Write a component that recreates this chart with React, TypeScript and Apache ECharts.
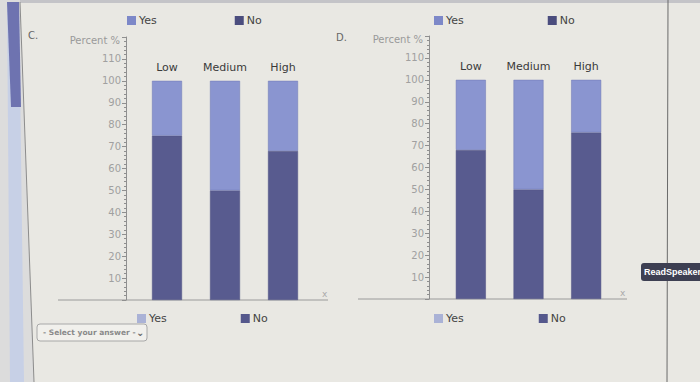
import React, { useEffect, useRef } from "react";
import * as echarts from "echarts";

const categories = ["Low", "Medium", "High"];
const noC = [75, 50, 68];
const yesC = [25, 50, 32];
const noD = [68, 50, 76];
const yesD = [32, 50, 24];
const yMin = 0;
const yMax = 120;
const yStep = 10;

const LIGHT = "#8a95d0";
const DARK = "#585b8f";
const FONT = "DejaVu Sans";

export default function App() {
  const ref = useRef<HTMLDivElement>(null);
  useEffect(() => {
    if (!ref.current) return;
    const chart = echarts.init(ref.current, undefined, { renderer: "svg" });

    const yAxis = (gridIndex: number, offset: number) => ({
      type: "value",
      gridIndex,
      min: yMin,
      max: yMax,
      interval: yStep,
      offset,
      name: "Percent %",
      nameLocation: "end",
      nameGap: 2,
      nameTextStyle: {
        align: "right",
        verticalAlign: "top",
        padding: [0, 6, 0, 0],
        color: "#9a9a9a",
        fontSize: 10,
        fontFamily: FONT,
      },
      axisLine: { show: true, lineStyle: { color: "#8f8f8f", width: 1 } },
      axisTick: { show: true, length: 4, lineStyle: { color: "#8f8f8f" } },
      minorTick: { show: true, splitNumber: 5, length: 2, lineStyle: { color: "#8f8f8f" } },
      splitLine: { show: false },
      axisLabel: {
        color: "#a0a0a0",
        fontSize: 10,
        fontFamily: FONT,
        margin: 5,
        formatter: (v: number) => (v === yMin || v === yMax ? "" : String(v)),
      },
    });

    const xAxis = (gridIndex: number) => ({
      type: "category",
      gridIndex,
      data: categories,
      axisLine: { show: false },
      axisTick: { show: false },
      axisLabel: { show: false },
    });

    const label = {
      show: true,
      position: "top",
      distance: 8,
      formatter: "{b}",
      color: "#3a3a3a",
      fontSize: 11,
      fontFamily: FONT,
    };

    const barBase = { type: "bar", barWidth: 30 };

    const legend = (left: number, top: number, gap: number, yesColor: string, noColor: string) => ({
      left,
      top,
      itemGap: gap,
      itemWidth: 9,
      itemHeight: 9,
      selectedMode: false,
      itemStyle: { borderWidth: 0 },
      textStyle: { fontSize: 11, color: "#444", fontFamily: FONT, padding: [0, 0, 0, -2] },
      data: [
        { name: "Yes", icon: "rect", itemStyle: { color: yesColor, borderWidth: 0 } },
        { name: "No", icon: "rect", itemStyle: { color: noColor, borderWidth: 0 } },
      ],
    });

    chart.setOption({
      animation: false,
      backgroundColor: "#e9e8e3",
      textStyle: { fontFamily: FONT },
      legend: [
        legend(122, 10, 78, "#7d88c8", "#4b4d7e"),
        legend(429, 10, 84, "#7d88c8", "#4b4d7e"),
        legend(132, 308, 74, "#aab2d6", "#55588c"),
        legend(429, 308, 75, "#aab2d6", "#55588c"),
      ],
      grid: [
        { left: 138, width: 174, top: 37, height: 263 },
        { left: 442, width: 173, top: 36, height: 263 },
      ],
      xAxis: [xAxis(0), xAxis(1)],
      yAxis: [yAxis(0, 12), yAxis(1, 13)],
      series: [
        { ...barBase, name: "No", stack: "c", xAxisIndex: 0, yAxisIndex: 0, data: noC,
          itemStyle: { color: DARK, borderColor: "#4e5180", borderWidth: 0.5 } },
        { ...barBase, name: "Yes", stack: "c", xAxisIndex: 0, yAxisIndex: 0, data: yesC,
          itemStyle: { color: LIGHT, borderColor: "#6f79b4", borderWidth: 0.5 }, label },
        { ...barBase, name: "No", stack: "d", xAxisIndex: 1, yAxisIndex: 1, data: noD,
          itemStyle: { color: DARK, borderColor: "#4e5180", borderWidth: 0.5 } },
        { ...barBase, name: "Yes", stack: "d", xAxisIndex: 1, yAxisIndex: 1, data: yesD,
          itemStyle: { color: LIGHT, borderColor: "#6f79b4", borderWidth: 0.5 }, label },
      ],
      graphic: [
        { type: "rect", z: -10, shape: { x: 0, y: 0, width: 700, height: 3 }, style: { fill: "#c4c4c8" } },
        { type: "polygon", z: 1, shape: { points: [[0, 0], [20, 0], [34, 382], [0, 382]] }, style: { fill: "#dcdcdc" } },
        { type: "polygon", z: 2, shape: { points: [[7, 2], [19, 2], [24, 382], [10, 382]] }, style: { fill: "#c7d0e6" } },
        { type: "polygon", z: 3, shape: { points: [[7, 2], [19, 2], [21, 107], [11, 107]] }, style: { fill: "#6e73b0" } },
        { type: "line", z: 3, shape: { x1: 20, y1: 2, x2: 34, y2: 382 }, style: { stroke: "#8c8c8c", lineWidth: 1 } },
        { type: "text", x: 28, y: 30, style: { text: "C.", fontSize: 10, fill: "#666", fontFamily: FONT } },
        { type: "text", x: 336, y: 32, style: { text: "D.", fontSize: 10, fill: "#666", fontFamily: FONT } },
        { type: "line", shape: { x1: 58, y1: 300, x2: 328, y2: 300 }, style: { stroke: "#9a9a9a", lineWidth: 1 } },
        { type: "text", x: 322, y: 289, style: { text: "x", fontSize: 9, fill: "#aaa", fontFamily: FONT } },
        { type: "line", shape: { x1: 358, y1: 299, x2: 627, y2: 299 }, style: { stroke: "#9a9a9a", lineWidth: 1 } },
        { type: "text", x: 620, y: 288, style: { text: "x", fontSize: 9, fill: "#aaa", fontFamily: FONT } },
        { type: "rect", shape: { x: 37, y: 324, width: 110, height: 17, r: 3 }, style: { fill: "#f1f0ec", stroke: "#a8a8a8", lineWidth: 1 } },
        { type: "text", x: 43, y: 328, style: { text: "- Select your answer -", fontSize: 7.5, fontWeight: "bold", fill: "#8a8a8a", fontFamily: FONT } },
        { type: "text", x: 136, y: 327, style: { text: "⌄", fontSize: 10, fontWeight: "bold", fill: "#666", fontFamily: FONT } },
        { type: "line", shape: { x1: 668, y1: 0, x2: 667, y2: 382 }, style: { stroke: "#6a6a6a", lineWidth: 1 } },
        { type: "rect", z: 5, shape: { x: 641, y: 263, width: 70, height: 18, r: 3 }, style: { fill: "#3d3f52" } },
        { type: "text", z: 6, x: 644, y: 267, style: { text: "ReadSpeaker", fontSize: 9, fontWeight: "bold", fill: "#ffffff", fontFamily: "Liberation Sans" } },
      ],
    });
    return () => chart.dispose();
  }, []);
  return (
    <div
      ref={ref}
      style={{ position: "fixed", left: 0, top: 0, width: 700, height: 382 }}
    />
  );
}
